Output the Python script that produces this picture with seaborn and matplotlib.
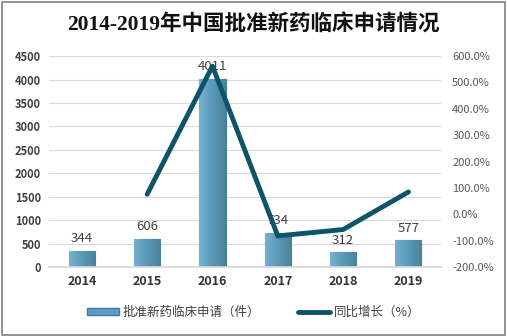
import numpy as np
import pandas as pd
import matplotlib
matplotlib.use("Agg")
import matplotlib.pyplot as plt
import seaborn as sns
from matplotlib.patches import Rectangle
from matplotlib.lines import Line2D
from matplotlib.colors import LinearSegmentedColormap

years = ["2014", "2015", "2016", "2017", "2018", "2019"]
applications = [344, 606, 4011, 734, 312, 577]
growth_pct = [np.nan, 76.2, 561.9, -81.7, -57.5, 84.9]
left_ticks = [0, 500, 1000, 1500, 2000, 2500, 3000, 3500, 4000, 4500]
right_ticks = [-200, -100, 0, 100, 200, 300, 400, 500, 600]

title = "2014-2019年中国批准新药临床申请情况"
bar_label = "批准新药临床申请（件）"
line_label = "同比增长（%）"

sns.set_theme(style="white")
plt.rcParams["font.family"] = ["Noto Sans CJK SC", "DejaVu Sans"]

df = pd.DataFrame({"year": years, "apps": applications, "growth": growth_pct})
df["pos"] = np.arange(len(years))

fig = plt.figure(figsize=(5.07, 3.36), dpi=100)
ax = fig.add_axes([0.097, 0.205, 0.773, 0.628])

bar_color = "#5E9EC0"
edge_color = "#3F7D9D"
sns.barplot(data=df, x="year", y="apps", ax=ax, color=bar_color, width=0.4,
            edgecolor=edge_color, linewidth=0.8, saturation=1, zorder=2)

# gradient fill on bars
cmap = LinearSegmentedColormap.from_list("g", ["#74B2D0", "#5A98B8", "#4A8299"])
grad = np.linspace(0, 1, 64).reshape(1, -1)
for p in ax.patches:
    x0, y0 = p.get_x(), p.get_y()
    w, h = p.get_width(), p.get_height()
    im = ax.imshow(grad, cmap=cmap, aspect="auto", extent=[x0, x0 + w, y0, y0 + h],
                   zorder=2.1, interpolation="bilinear")
    im.set_clip_path(p)
for p, v in zip(list(ax.patches), applications):
    ax.annotate(str(v), (p.get_x() + p.get_width() / 2, p.get_height()),
                xytext=(0, 4), textcoords="offset points", ha="center", va="bottom",
                fontsize=9.5, color="#404040", fontweight="medium", zorder=5)

ax.set_ylim(0, 4500)
ax.set_xlim(-0.5, len(years) - 0.5)
ax.set_yticks(left_ticks)
ax.set_yticklabels([str(t) for t in left_ticks], fontsize=8, color="#404040", fontweight="bold")
ax.set_xticks(range(len(years)))
ax.set_xticklabels(years, fontsize=9, fontweight="bold", color="#333333")
ax.set_xlabel("")
ax.set_ylabel("")
ax.yaxis.grid(True, color="#D9D9D9", linewidth=0.8, zorder=0)
ax.set_axisbelow(True)
for s in ["top", "right", "left"]:
    ax.spines[s].set_visible(False)
ax.spines["bottom"].set_color("#D9D9D9")
ax.tick_params(axis="both", length=0, pad=6)

ax2 = ax.twinx()
line_color = "#0E5469"
sns.lineplot(data=df.dropna(), x="pos", y="growth", ax=ax2, color=line_color,
             linewidth=3.5, zorder=4, legend=False)
ax2.set_ylim(-200, 600)
ax2.set_yticks(right_ticks)
ax2.set_yticklabels([f"{t:.1f}%" for t in right_ticks], fontsize=8, color="#595959")
ax2.set_xlim(-0.5, len(years) - 0.5)
ax2.set_ylabel("")
ax2.set_xlabel("")
for s in ["top", "right", "left", "bottom"]:
    ax2.spines[s].set_visible(False)
ax2.tick_params(axis="y", length=0, pad=8)
ax2.grid(False)

fig.text(0.5, 0.925, title, ha="center", va="center", fontsize=15.5, fontweight="semibold",
         color="#111111", family=["Liberation Serif", "Noto Sans CJK SC"])

handles = [Rectangle((0, 0), 1, 1, facecolor=bar_color, edgecolor=edge_color),
           Line2D([0], [0], color=line_color, linewidth=3.5)]
fig.legend(handles, [bar_label, line_label], loc="center", bbox_to_anchor=(0.5, 0.07),
           ncol=2, frameon=False, fontsize=9, handlelength=2.6, handleheight=0.5,
           columnspacing=3, handletextpad=0.3, labelcolor="#404040")

fig.patches.append(Rectangle((0.004, 0.004), 0.992, 0.99, transform=fig.transFigure,
                             fill=False, edgecolor="#7F7F7F", linewidth=1.2))

fig.savefig("out.png", dpi=100, facecolor="white")
